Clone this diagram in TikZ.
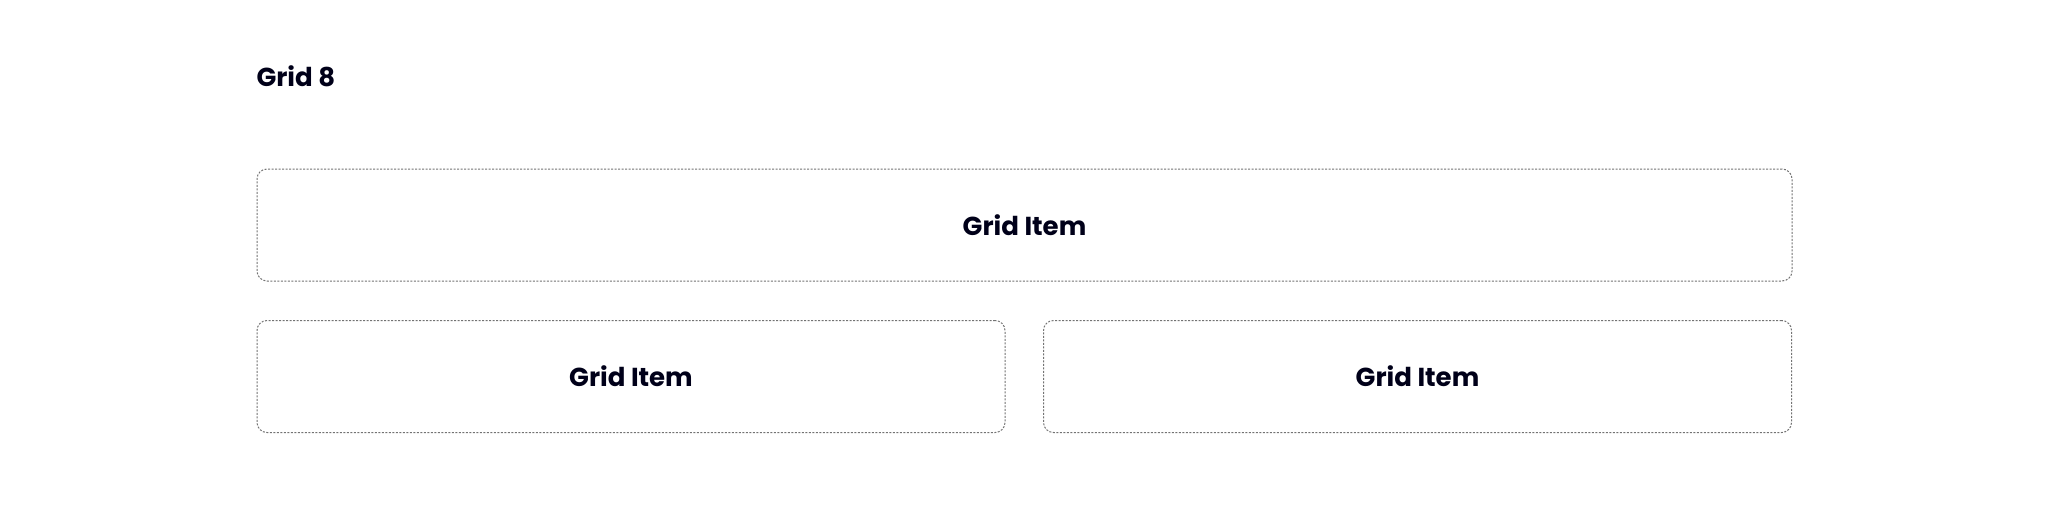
\documentclass[tikz,border=0pt]{standalone}
\usepackage{fontspec}
\setmainfont{Poppins}
\tikzset{
  itembox/.style={draw=black!55, line width=1pt, dash pattern=on 2pt off 1.5pt, rounded corners=10pt, minimum height=112pt, inner sep=0pt},
  lbl/.style={font=\fontsize{26}{31}\selectfont\bfseries, text=black!90!blue},
}
\begin{document}
\begin{tikzpicture}[x=1pt,y=-1pt]
\useasboundingbox[fill=white] (0,0) rectangle (2048,512);
\node[lbl, anchor=west] (title) at (253,76) {Grid 8};
\node[itembox, minimum width=1535pt] (a) at (1024.5,225) {};
\node[itembox, minimum width=748pt] (b) at (631,376.5) {};
\node[itembox, minimum width=748pt] (c) at (1417.5,376.5) {};
\node[lbl] (ta) at (a) {Grid Item};
\node[lbl] (tb) at (b) {Grid Item};
\node[lbl] (tc) at (c) {Grid Item};
\end{tikzpicture}
\end{document}
